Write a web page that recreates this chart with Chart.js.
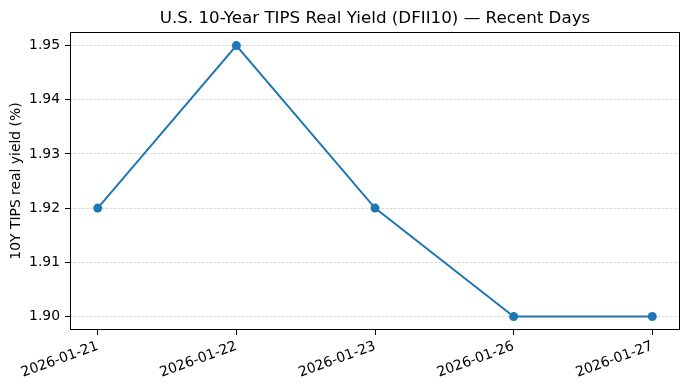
<!DOCTYPE html>
<html>
<head>
<meta charset="utf-8">
<script src="https://cdn.jsdelivr.net/npm/chart.js@4"></script>
<style>
  html, body { margin: 0; padding: 0; background: #fff; }
  #wrap { width: 690px; height: 390px; }
</style>
</head>
<body>
<div id="wrap"><canvas id="tipsChart" width="690" height="390"></canvas></div>
<script>
const dates = ['2026-01-21', '2026-01-22', '2026-01-23', '2026-01-26', '2026-01-27'];
const realYield = [1.92, 1.95, 1.92, 1.90, 1.90];
const yTicks = [1.90, 1.91, 1.92, 1.93, 1.94, 1.95];

const FONT = "'DejaVu Sans', sans-serif";

// full box around the plot area, like matplotlib spines
const frameBox = {
    id: 'frameBox',
    afterDraw(chart) {
        const a = chart.chartArea;
        const ctx = chart.ctx;
        ctx.save();
        ctx.strokeStyle = '#000';
        ctx.lineWidth = 1;
        ctx.strokeRect(Math.round(a.left) + 0.5, Math.round(a.top) + 0.5,
            Math.round(a.right - a.left) - 1, Math.round(a.bottom - a.top) - 1);
        ctx.restore();
    }
};

function initChart() {
    const ctx = document.getElementById('tipsChart');

    new Chart(ctx, {
        type: 'line',
        data: {
            datasets: [{
                label: '10Y TIPS real yield',
                data: realYield.map((v, i) => ({ x: i, y: v })),
                borderColor: '#1f77b4',
                backgroundColor: '#1f77b4',
                borderWidth: 2,
                pointRadius: 4.5,
                pointHoverRadius: 4.5,
                pointBorderWidth: 0,
                tension: 0
            }]
        },
        options: {
            responsive: false,
            animation: false,
            layout: {
                padding: { left: 0, right: 10, top: 0, bottom: 0 }
            },
            scales: {
                x: {
                    type: 'linear',
                    min: -0.2,
                    max: 4.2,
                    afterBuildTicks: function(scale) {
                        scale.ticks = dates.map((d, i) => ({ value: i }));
                    },
                    afterFit: function(scale) {
                        scale.height = 60;
                    },
                    grid: {
                        drawOnChartArea: false,
                        drawTicks: true,
                        tickLength: 5,
                        tickColor: '#000',
                        tickWidth: 1
                    },
                    border: { display: false },
                    ticks: {
                        autoSkip: false,
                        minRotation: 20,
                        maxRotation: 20,
                        padding: 3,
                        color: '#000',
                        font: { family: FONT, size: 13.9 },
                        callback: function(value) {
                            return dates[value];
                        }
                    }
                },
                y: {
                    min: 1.8975,
                    max: 1.9525,
                    afterBuildTicks: function(scale) {
                        scale.ticks = yTicks.map(v => ({ value: v }));
                    },
                    afterFit: function(scale) {
                        scale.width = 70;
                    },
                    grid: {
                        color: '#bdbdbd',
                        lineWidth: 0.6,
                        drawTicks: true,
                        tickLength: 5,
                        tickColor: '#000',
                        tickWidth: 1
                    },
                    border: { display: false, dash: [2.5, 1.5] },
                    ticks: {
                        padding: 5,
                        color: '#000',
                        font: { family: FONT, size: 13.9 },
                        callback: function(value) {
                            return value.toFixed(2);
                        }
                    },
                    title: {
                        display: true,
                        text: '10Y TIPS real yield (%)',
                        color: '#000',
                        font: { family: FONT, size: 13.9 },
                        padding: { top: 8, bottom: 0 }
                    }
                }
            },
            plugins: {
                legend: { display: false },
                tooltip: { enabled: false },
                title: {
                    display: true,
                    fullSize: false,
                    text: 'U.S. 10-Year TIPS Real Yield (DFII10) \u2014 Recent Days',
                    color: '#000',
                    font: { family: FONT, size: 16.7, weight: 'normal' },
                    padding: { top: 9, bottom: 3 }
                }
            }
        },
        plugins: [frameBox]
    });
}

document.addEventListener('DOMContentLoaded', function() {
    initChart();
});
</script>
</body>
</html>
